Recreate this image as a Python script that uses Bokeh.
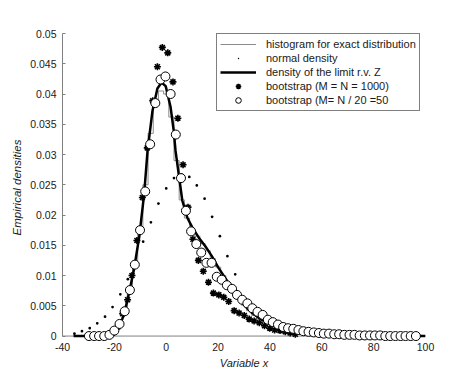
from bokeh.plotting import figure
from bokeh.models import Range1d, FixedTicker, Span, Legend, LegendItem
from bokeh.embed import file_html
from bokeh.resources import INLINE

# ---------------- data ----------------
norm_x = [-35.4, -32.5, -29.5, -26.6, -23.6, -20.7, -17.7, -14.8, -11.8, -8.9,
          -5.9, -3.0, 0.0, 3.0, 5.9, 8.9, 11.8, 14.8, 17.7, 20.7, 23.6, 26.6]
norm_y = [0.0004, 0.0008, 0.0013, 0.0021, 0.0032, 0.0048, 0.0069, 0.0094, 0.0124, 0.0156,
          0.0188, 0.0219, 0.0244, 0.0261, 0.0267, 0.0263, 0.0249, 0.0227, 0.0197, 0.0165,
          0.0132, 0.0102]

z_x = [-35.7, -30.2, -24.0, -22.0, -20.1, -18.2, -16.3, -14.4, -12.4, -10.4, -8.5, -7.2,
       -5.3, -3.4, -1.8, -0.2, 1.7, 2.9, 3.6, 4.9, 6.2, 8.1, 10.0, 12.5, 15.0, 17.6,
       20.1, 22.6, 25.2, 27.8, 30.3, 32.9, 35.4, 38.0, 40.5, 43.1, 45.6, 49.5, 55.0,
       60.0, 70.0, 80.0, 90.0, 100.0]
z_y = [0.0, 0.0, 0.0, 0.0002, 0.0004, 0.0015, 0.0035, 0.0070, 0.0111, 0.0164, 0.0235, 0.0306,
       0.0372, 0.0409, 0.0419, 0.0413, 0.0378, 0.0339, 0.0306, 0.0265, 0.0224, 0.0196, 0.0180,
       0.0163, 0.0149, 0.0132, 0.0113, 0.0097, 0.0080, 0.0064, 0.0050, 0.0039, 0.0031, 0.0024,
       0.0019, 0.0015, 0.0013, 0.0010, 0.0006, 0.0004, 0.0002, 0.0001, 0.00005, 0.0]

hist_x = [-36, -34, -32, -30, -28, -26, -24, -22, -20, -18, -16, -14, -12, -10, -8, -6, -4, -2,
          0, 2, 4, 6, 8, 10, 12, 14, 16, 18, 20, 22, 24, 26, 28, 30, 32, 34, 36, 38, 40, 42,
          44, 46, 48, 50, 52, 54, 56, 58, 60, 65, 70, 75, 80, 85, 90, 95, 100]
hist_y = [0.0, 0.0, 0.0, 0.0, 0.0, 0.0, 0.0001, 0.0002, 0.0005, 0.0016, 0.0039, 0.0077,
          0.0121, 0.0177, 0.0250, 0.0335, 0.0390, 0.0405, 0.0400, 0.0362, 0.0290, 0.0225,
          0.0195, 0.0178, 0.0165, 0.0153, 0.0141, 0.0128, 0.0114, 0.0100, 0.0088, 0.0075,
          0.0062, 0.0051, 0.0042, 0.0034, 0.0028, 0.0023, 0.0019, 0.0016, 0.0014, 0.0012,
          0.0010, 0.0009, 0.0008, 0.0007, 0.0006, 0.0005, 0.0004, 0.0003, 0.0002, 0.0002,
          0.0001, 0.0001, 0.0, 0.0, 0.0]

boot1000_x = [-22.7, -20.8, -18.7, -16.8, -14.9, -13.2, -11.3, -9.2, -7.3, -5.2, -3.4, -1.5,
              0.6, 2.6, 4.5, 6.5, 8.4, 10.3, 12.4, 14.3, 16.3, 18.2, 20.3, 22.2, 24.1, 26.2,
              28.1, 30.1, 32.0, 33.9, 35.9, 37.9, 39.9, 41.8, 43.9, 45.9, 47.8, 49.8]
boot1000_y = [0.0001, 0.0005, 0.0015, 0.0037, 0.0060, 0.0100, 0.0158, 0.0229, 0.0311, 0.0389,
              0.0445, 0.0477, 0.0468, 0.0420, 0.0360, 0.0283, 0.0213, 0.0160, 0.0125, 0.0107,
              0.0089, 0.0071, 0.0068, 0.0064, 0.0057, 0.0042, 0.0038, 0.0034, 0.0028, 0.0025,
              0.0022, 0.0017, 0.0013, 0.0010, 0.0009, 0.0007, 0.0005, 0.0003]

boot50_x = [-29.8, -27.8, -25.9, -23.9, -21.9, -20.0, -18.0, -16.0, -14.0, -12.1, -10.1, -8.1,
            -6.2, -4.2, -2.2, -0.3, 1.7, 3.7, 5.7, 7.6, 9.6, 11.6, 13.5, 15.5, 17.5, 19.5,
            21.4, 23.4, 25.4, 27.3, 29.3, 31.3, 33.2, 35.2, 37.2, 39.2, 41.1, 43.1, 45.1,
            47.0, 49.0, 51.0, 52.9, 54.9, 56.9, 58.9, 60.8, 62.8, 64.8, 66.7, 68.7, 70.7,
            72.6, 74.6, 76.6, 78.6, 80.5, 82.5, 84.5, 86.4, 88.4, 90.4, 92.3, 94.3, 96.3]
boot50_y = [0.0, 0.0, 0.0, 0.0, 0.0002, 0.0009, 0.0020, 0.0041, 0.0076, 0.0118, 0.0175, 0.0239,
            0.0317, 0.0385, 0.0424, 0.0429, 0.0400, 0.0333, 0.0261, 0.0207, 0.0173, 0.0152,
            0.0138, 0.0121, 0.0121, 0.0098, 0.0093, 0.0084, 0.0078, 0.0068, 0.0060, 0.0054,
            0.0046, 0.0040, 0.0035, 0.0027, 0.0023, 0.0019, 0.0015, 0.0013, 0.0012, 0.0010,
            0.0008, 0.0007, 0.0006, 0.0005, 0.0004, 0.0004, 0.0003, 0.0003, 0.0002, 0.0002,
            0.0002, 0.0001, 0.0001, 0.0001, 0.0001, 0.0001, 0.0, 0.0, 0.0, 0.0, 0.0, 0.0, 0.0]

x_ticks = [-40, -20, 0, 20, 40, 60, 80, 100]
x_tick_labels = ["-40", "-20", "0", "20", "40", "60", "80", "100"]
y_ticks = [0, 0.005, 0.01, 0.015, 0.02, 0.025, 0.03, 0.035, 0.04, 0.045, 0.05]
y_tick_labels = ["0", "0.005", "0.01", "0.015", "0.02", "0.025", "0.03", "0.035",
                 "0.04", "0.045", "0.05"]

legend_labels = ["histogram for exact distribution", "normal density",
                 "density of the limit r.v. Z", "bootstrap (M = N = 1000)",
                 "bootstrap (M= N / 20 =50"]

# ---------------- figure ----------------
FONT = "Liberation Sans"
AXIS_GRAY = "#808080"
TEXT = "#1a1a1a"

p = figure(width=474, height=378, x_range=Range1d(-40, 100), y_range=Range1d(-0.0009, 0.05),
           output_backend="svg", toolbar_location=None,
           min_border_left=62, min_border_right=49, min_border_top=33, min_border_bottom=37)
p.title.visible = False
p.outline_line_color = None
p.grid.visible = False
p.background_fill_color = "white"
p.border_fill_color = "white"

# x axis
xa = p.xaxis[0]
xa.ticker = FixedTicker(ticks=x_ticks)
xa.major_label_overrides = {t: l for t, l in zip(x_ticks, x_tick_labels)}
xa.axis_line_color = None
xa.major_tick_in = 0
xa.major_tick_out = 0
xa.minor_tick_line_color = None
xa.major_label_standoff = 1
xa.major_label_text_font = FONT
xa.major_label_text_font_size = "10.5px"
xa.major_label_text_color = TEXT
xa.axis_label = "Variable x"
xa.axis_label_text_font = FONT
xa.axis_label_text_font_style = "italic"
xa.axis_label_text_font_size = "11px"
xa.axis_label_text_color = TEXT
xa.axis_label_standoff = 3

# y axis
ya = p.yaxis[0]
ya.ticker = FixedTicker(ticks=y_ticks)
ya.major_label_overrides = {t: l for t, l in zip(y_ticks, y_tick_labels)}
ya.bounds = (0, 0.05)
ya.axis_line_color = AXIS_GRAY
ya.major_tick_line_color = AXIS_GRAY
ya.major_tick_in = 3
ya.major_tick_out = 0
ya.minor_tick_line_color = None
ya.major_label_standoff = 6
ya.major_label_text_font = FONT
ya.major_label_text_font_size = "10.5px"
ya.major_label_text_color = TEXT
ya.axis_label = "Empirical densities"
ya.axis_label_text_font = FONT
ya.axis_label_text_font_style = "italic"
ya.axis_label_text_font_size = "11.5px"
ya.axis_label_text_color = TEXT
ya.axis_label_standoff = 4

# x axis line at y = 0
p.add_layout(Span(location=0, dimension="width", line_color=AXIS_GRAY, line_width=1,
                  level="underlay"))

# ---------------- glyphs ----------------
r_norm = p.scatter(norm_x, norm_y, marker="dot", size=11, color="black")
r_hist = p.step(hist_x, hist_y, mode="center", line_color="#8c8c8c", line_width=1)
r_z = p.line(z_x, z_y, line_color="black", line_width=2.5)
r_b1000 = p.scatter(boot1000_x, boot1000_y, marker="asterisk", size=7,
                    line_color="black", line_width=1.6)
r_b50 = p.scatter(boot50_x, boot50_y, marker="circle", size=9, fill_color="white",
                  line_color="black", line_width=1)

legend = Legend(items=[LegendItem(label=legend_labels[0], renderers=[r_hist]),
                       LegendItem(label=legend_labels[1], renderers=[r_norm]),
                       LegendItem(label=legend_labels[2], renderers=[r_z]),
                       LegendItem(label=legend_labels[3], renderers=[r_b1000]),
                       LegendItem(label=legend_labels[4], renderers=[r_b50])],
                location=(154, 230), margin=0, padding=3, spacing=0,
                glyph_width=36, glyph_height=14, label_height=14, label_standoff=10,
                label_text_font=FONT, label_text_font_size="11px", label_text_color=TEXT,
                border_line_color="black", border_line_width=1,
                background_fill_color="white", background_fill_alpha=1.0)
p.add_layout(legend)

open("out.html", "w").write(file_html(p, INLINE))
